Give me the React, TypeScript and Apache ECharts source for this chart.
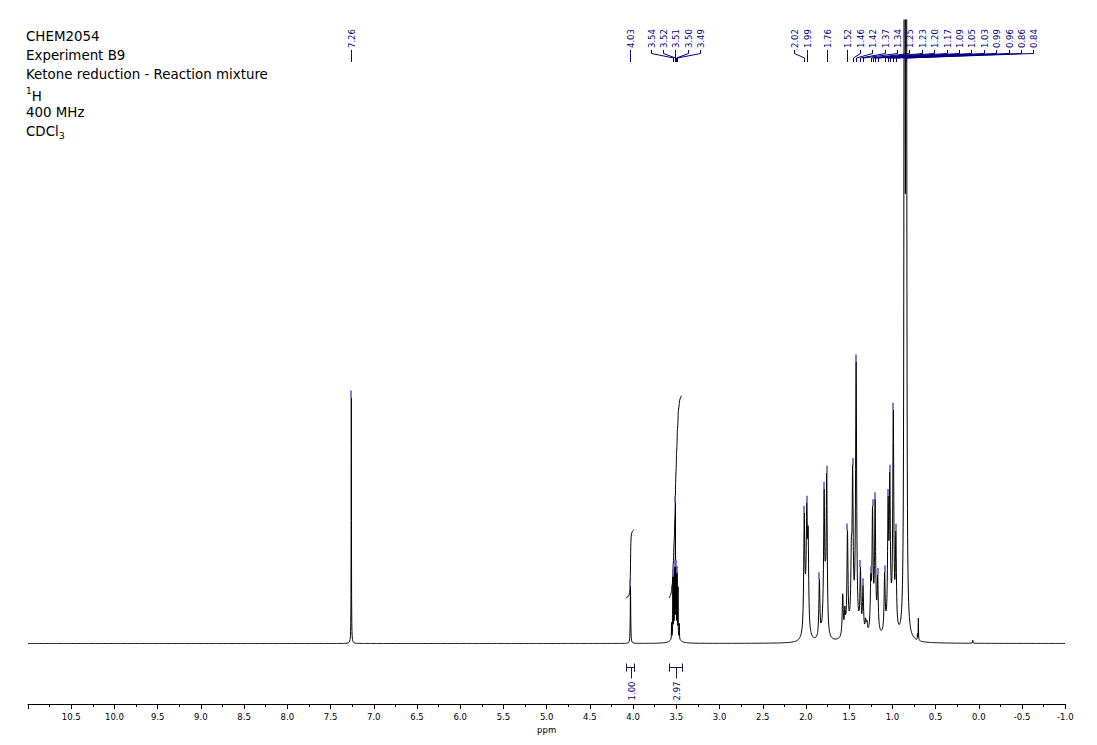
import React, { useEffect, useRef } from "react";
import * as echarts from "echarts";

// ---------- DATA ----------
type Peak = [number, number, number]; // [ppm, intensity, half-width at half height (ppm)]

const titleLines = ["CHEM2054", "Experiment B9", "Ketone reduction - Reaction mixture", "1H", "400 MHz", "CDCl3"];

const ppmLow = -1.0;
const ppmHigh = 11.0;
const tickInterval = 0.5;

const solventPeaks: Peak[] = [[7.26, 246, 0.0018]];
const peaks403: Peak[] = [[4.03, 57, 0.003]];
const peaks351: Peak[] = [
  [3.51, 13, 0.03],
  [3.555, 16, 0.0015],
  [3.54, 58, 0.0015],
  [3.53, 56, 0.0015],
  [3.52, 60, 0.0015],
  [3.51, 124, 0.0015],
  [3.5, 60, 0.0015],
  [3.49, 58, 0.0015],
  [3.48, 48, 0.0015],
  [3.465, 15, 0.0015],
];
const peaks200: Peak[] = [
  [2.0, 30, 0.02],
  [2.02, 108, 0.007],
  [1.99, 95, 0.007],
  [1.975, 85, 0.007],
];
const peaks178: Peak[] = [
  [1.8, 12, 0.02],
  [1.845, 57, 0.007],
  [1.79, 130, 0.007],
  [1.775, 25, 0.007],
  [1.76, 155, 0.007],
];
const peaks145: Peak[] = [
  [1.45, 15, 0.06],
  [1.575, 41, 0.007],
  [1.55, 22, 0.007],
  [1.52, 99, 0.007],
  [1.475, 60, 0.007],
  [1.46, 142, 0.007],
  [1.42, 261, 0.007],
  [1.37, 60, 0.007],
  [1.34, 45, 0.007],
  [1.31, 12, 0.007],
  [1.295, 10, 0.007],
];
const peaks121: Peak[] = [
  [1.21, 12, 0.04],
  [1.25, 45, 0.007],
  [1.23, 112, 0.007],
  [1.2, 120, 0.007],
  [1.17, 50, 0.007],
];
const peaks103: Peak[] = [
  [1.02, 15, 0.04],
  [1.09, 57, 0.007],
  [1.05, 115, 0.007],
  [1.03, 134, 0.007],
  [0.99, 210, 0.007],
  [0.96, 90, 0.007],
];
const peaks085: Peak[] = [
  [0.86, 4000, 0.0025],
  [0.84, 3600, 0.0025],
];
const peaks070: Peak[] = [
  [0.7, 22, 0.002],
  [0.71, 6, 0.002],
];
const peaks000: Peak[] = [[0.07, 3, 0.003]];

const allPeaks: Peak[] = [
  ...solventPeaks, ...peaks403, ...peaks351, ...peaks200, ...peaks178,
  ...peaks145, ...peaks121, ...peaks103, ...peaks085, ...peaks070, ...peaks000,
];

// picked peaks, grouped as multiplets for the label fan-out
const labelGroups: number[][] = [
  [7.26],
  [4.03],
  [3.54, 3.52, 3.51, 3.5, 3.49],
  [2.02, 1.99],
  [1.76],
  [1.52],
  [1.46, 1.42, 1.37, 1.34, 1.25, 1.23, 1.2, 1.17, 1.09, 1.05, 1.03, 0.99, 0.96, 0.86, 0.84],
];
const unlabelledPicks = [1.845, 1.79];

const integralRanges: [number, number][] = [[4.085, 3.985], [3.585, 3.435]];
const integralValues = [1.0, 2.97];

// ---------- HELPERS ----------
const FONT = "'DejaVu Sans', Verdana, sans-serif";
const NAVY = "#000080";

function intensity(ppm: number): number {
  let s = 0;
  for (const [p, h, w] of allPeaks) {
    const d = (ppm - p) / w;
    s += h / (1 + d * d);
  }
  return s;
}

function buildSpectrum(): number[][] {
  const xs = new Set<number>();
  const step = 0.002;
  const n = Math.round((ppmHigh - ppmLow) / step);
  for (let i = 0; i <= n; i++) xs.add(+(ppmHigh - i * step).toFixed(4));
  for (const [p, , w] of allPeaks) {
    for (const k of [-2, -1, -0.5, 0, 0.5, 1, 2]) xs.add(+(p + k * Math.min(w, 0.003)).toFixed(5));
  }
  const arr = Array.from(xs).filter((x) => x <= ppmHigh && x >= ppmLow).sort((a, b) => b - a);
  return arr.map((x) => [x, intensity(x)]);
}

const spectrum = buildSpectrum();

const INTEGRAL_OFFSET = 45.5;
const INTEGRAL_UNIT = 68.3;

function integralCurve(range: [number, number], value: number): number[][] {
  const [a, b] = range;
  const pts = spectrum.filter((d) => d[0] <= a && d[0] >= b);
  const cum: number[] = [0];
  for (let i = 1; i < pts.length; i++) {
    const dx = pts[i - 1][0] - pts[i][0];
    cum.push(cum[i - 1] + 0.5 * (pts[i - 1][1] + pts[i][1]) * dx);
  }
  const total = cum[cum.length - 1] || 1;
  return pts.map((d, i) => [d[0], INTEGRAL_OFFSET + (cum[i] / total) * value * INTEGRAL_UNIT]);
}

type LabelPos = { ppm: number; peakX: number; labelX: number };
// each multiplet's label fan is anchored on its most intense line, then pushed right to avoid overlaps
function layoutLabels(toX: (p: number) => number, spacing: number): LabelPos[] {
  const out: LabelPos[] = [];
  let prevRight = -Infinity;
  for (const grp of labelGroups) {
    const xs = grp.map(toX);
    let iMax = 0;
    grp.forEach((p, i) => {
      if (intensity(p) > intensity(grp[iMax])) iMax = i;
    });
    let start = xs[iMax] - iMax * spacing;
    if (start < prevRight + spacing) start = prevRight + spacing;
    grp.forEach((p, i) => out.push({ ppm: p, peakX: xs[i], labelX: start + i * spacing }));
    prevRight = start + (xs.length - 1) * spacing;
  }
  return out;
}

const labelData = labelGroups.flat().map((p) => [p, 0]);
const pickData = [...labelGroups.flat(), ...unlabelledPicks].map((p) => [p, 0]);
const integralData = integralRanges.map((r, i) => [r[0], 0, r[1], integralValues[i]]);

function buildOption(): any {
  let cachedLayout: LabelPos[] | null = null;
  const renderPeakLabel = (params: any, api: any) => {
    if (!cachedLayout || params.dataIndex === 0) {
      cachedLayout = layoutLabels((p) => api.coord([p, 0])[0], 12.4);
    }
    const item = cachedLayout[params.dataIndex];
    const top = params.coordSys.y;
    const lx = Math.round(item.labelX) + 0.5;
    const px = Math.round(item.peakX) + 0.5;
    return {
      type: "group",
      children: [
        {
          type: "text",
          x: lx,
          y: top + 28,
          rotation: Math.PI / 2,
          style: {
            text: item.ppm.toFixed(2),
            fill: NAVY,
            fontSize: 8.5,
            fontFamily: FONT,
            align: "left",
            verticalAlign: "middle",
          },
        },
        {
          type: "polyline",
          shape: { points: [[lx, top + 30], [lx, top + 33.5], [px, top + 38], [px, top + 42]] },
          style: { stroke: NAVY, fill: null, lineWidth: 1 },
        },
      ],
    };
  };

  const renderPick = (params: any, api: any) => {
    const p = api.value(0);
    const [x, y] = api.coord([p, intensity(p)]);
    const top = params.coordSys.y;
    if (y - 7 < top) return { type: "group", children: [] };
    return {
      type: "rect",
      shape: { x: Math.round(x) - 1, y: y - 7, width: 2, height: 7 },
      style: { fill: "rgba(95,95,205,0.8)" },
    };
  };

  const renderBracket = (params: any, api: any) => {
    const from = api.value(0);
    const to = api.value(2);
    const val = api.value(3);
    const x1 = Math.round(api.coord([from, 0])[0]) + 0.5;
    const x2 = Math.round(api.coord([to, 0])[0]) + 0.5;
    const xc = Math.round((x1 + x2) / 2) + 0.5;
    const base = api.coord([from, 0])[1];
    const yb = Math.round(base + 23) + 0.5;
    const st = { stroke: "#1a1a40", lineWidth: 1 };
    return {
      type: "group",
      children: [
        { type: "line", shape: { x1, y1: yb, x2, y2: yb }, style: st },
        { type: "line", shape: { x1, y1: yb - 4, x2: x1, y2: yb + 4 }, style: st },
        { type: "line", shape: { x1: x2, y1: yb - 4, x2, y2: yb + 4 }, style: st },
        { type: "line", shape: { x1: xc, y1: yb, x2: xc, y2: yb + 11 }, style: st },
        {
          type: "text",
          x: xc,
          y: yb + 14,
          rotation: Math.PI / 2,
          style: {
            text: Number(val).toFixed(2),
            fill: NAVY,
            fontSize: 8.5,
            fontFamily: FONT,
            align: "right",
            verticalAlign: "middle",
          },
        },
      ],
    };
  };

  const titleGraphics = titleLines.map((line, i) => {
    let text = line;
    if (line === "1H") text = "{sup|1}{m|H}";
    else if (line === "CDCl3") text = "{m|CDCl}{sub|3}";
    else text = "{m|" + line + "}";
    return {
      type: "text",
      left: 26,
      top: 39 + i * 19 - 9.5,
      style: {
        text,
        fill: "#000",
        fontFamily: FONT,
        fontSize: 13.4,
        rich: {
          m: { fontSize: 13.4, lineHeight: 19, fontFamily: FONT, fill: "#000" },
          sup: { fontSize: 9, lineHeight: 12, verticalAlign: "top", fontFamily: FONT, fill: "#000" },
          sub: { fontSize: 9.5, lineHeight: 12, verticalAlign: "bottom", fontFamily: FONT, fill: "#000" },
        },
      },
    };
  });

  return {
    animation: false,
    backgroundColor: "#fff",
    grid: { left: 28, right: 31.7, top: 20, bottom: 41 },
    xAxis: {
      type: "value",
      min: ppmLow,
      max: ppmHigh,
      interval: tickInterval,
      inverse: true,
      axisLine: { onZero: false, lineStyle: { color: "#000", width: 1 } },
      axisTick: { show: true, length: 5, lineStyle: { color: "#000" } },
      minorTick: { show: true, splitNumber: 2, length: 3, lineStyle: { color: "#000" } },
      splitLine: { show: false },
      minorSplitLine: { show: false },
      axisLabel: {
        formatter: (v: number) => (v > ppmHigh - 0.1 ? "" : v.toFixed(1)),
        fontSize: 8.5,
        color: "#000",
        fontFamily: FONT,
        margin: 8,
      },
      name: "ppm",
      nameLocation: "middle",
      nameGap: 20,
      nameTextStyle: { fontSize: 8.5, color: "#000", fontFamily: FONT },
    },
    yAxis: { type: "value", min: -60.5, max: 623.5, show: false },
    graphic: titleGraphics,
    series: [
      {
        type: "line",
        data: spectrum,
        symbol: "none",
        showSymbol: false,
        lineStyle: { color: "#000", width: 1 },
        silent: true,
        clip: true,
        z: 3,
      },
      ...integralRanges.map((r, i) => ({
        type: "line",
        data: integralCurve(r, integralValues[i]),
        symbol: "none",
        showSymbol: false,
        lineStyle: { color: "#000", width: 1 },
        silent: true,
        z: 3,
      })),
      { type: "custom", renderItem: renderPeakLabel, data: labelData, silent: true, z: 5, clip: false },
      { type: "custom", renderItem: renderPick, data: pickData, silent: true, z: 6, clip: false },
      { type: "custom", renderItem: renderBracket, data: integralData, silent: true, z: 5, clip: false },
    ],
  };
}

export default function App() {
  const ref = useRef<HTMLDivElement>(null);
  useEffect(() => {
    if (!ref.current) return;
    const chart = echarts.init(ref.current, null, { renderer: "svg" });
    chart.setOption(buildOption());
    return () => chart.dispose();
  }, []);
  return (
    <div
      ref={ref}
      style={{ position: "absolute", left: 0, top: 0, width: 1097, height: 745, background: "#fff" }}
    />
  );
}
